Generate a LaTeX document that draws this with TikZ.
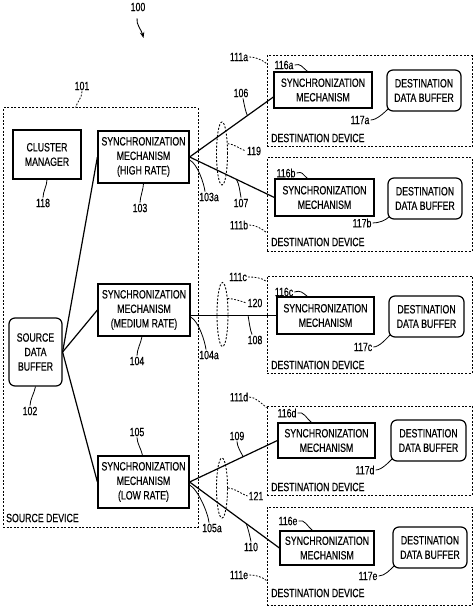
\documentclass[tikz,border=0pt]{standalone}
\usepackage{fontspec}
\setmainfont{Liberation Sans}[FakeStretch=0.73,FakeBold=0.35]
\usetikzlibrary{shapes.geometric,calc,arrows.meta}
\tikzset{
  txt/.style={font=\fontsize{12}{14.5}\selectfont},
  sz/.style 2 args={minimum width=#1, minimum height=#2},
  box/.style={draw, line width=1.2pt, align=center, inner sep=0pt, txt},
  rbox/.style={box, rounded corners=6pt},
  dbox/.style={draw, line width=1pt, dash pattern=on 2pt off 1.6pt, inner sep=0pt},
  ell/.style={ellipse, draw, line width=0.9pt, dash pattern=on 2pt off 1.6pt, inner sep=0pt},
  lbl/.style={txt, inner sep=1pt},
  plain/.style={txt, inner sep=0pt, anchor=west},
  lead/.style={line width=0.8pt},
  dlead/.style={line width=0.8pt, dash pattern=on 1.8pt off 1.5pt},
  link/.style={line width=1.2pt},
}
\begin{document}
\begin{tikzpicture}[x=1pt,y=-1pt]
\fill[white] (0,0) rectangle (474,609);
\useasboundingbox (0,0) rectangle (474,609);

% ---------- source device ----------
\node[dbox, sz={195pt}{419pt}] (src) at (100.5,317.5) {};
\node[plain] (srclbl) at (6,518) {SOURCE DEVICE};
\node[box, sz={68pt}{49pt}] (cm) at (47,154.5) {CLUSTER\\MANAGER};
\node[box, sz={91pt}{52pt}] (sh) at (143.5,157) {SYNCHRONIZATION\\MECHANISM\\(HIGH RATE)};
\node[box, sz={92pt}{52pt}] (sm) at (144,310) {SYNCHRONIZATION\\MECHANISM\\(MEDIUM RATE)};
\node[box, sz={91pt}{52pt}] (sl) at (143.5,482) {SYNCHRONIZATION\\MECHANISM\\(LOW RATE)};
\node[rbox, sz={53pt}{68pt}] (sdb) at (35.5,352) {SOURCE\\DATA\\BUFFER};

% ---------- destination devices ----------
\node[dbox, sz={205pt}{91pt}] (da) at (369.5,101.5) {};
\node[dbox, sz={205pt}{93pt}] (db) at (369.5,204.5) {};
\node[dbox, sz={205pt}{97pt}] (dc) at (369.5,324.5) {};
\node[dbox, sz={205pt}{89pt}] (dd) at (369.5,450.5) {};
\node[dbox, sz={205pt}{98pt}] (de) at (369.5,556) {};

\node[plain] (dla) at (271,138) {DESTINATION DEVICE};
\node[plain] (dlb) at (271,242) {DESTINATION DEVICE};
\node[plain] (dlc) at (271,365) {DESTINATION DEVICE};
\node[plain] (dld) at (271,487) {DESTINATION DEVICE};
\node[plain] (dle) at (271,593) {DESTINATION DEVICE};

\node[box, sz={98pt}{36pt}] (sa) at (323,90) {SYNCHRONIZATION\\MECHANISM};
\node[box, sz={99pt}{37pt}] (sb) at (324.5,197.5) {SYNCHRONIZATION\\MECHANISM};
\node[box, sz={97pt}{37pt}] (sc) at (325.5,315.5) {SYNCHRONIZATION\\MECHANISM};
\node[box, sz={97pt}{35pt}] (sd) at (326.5,440.5) {SYNCHRONIZATION\\MECHANISM};
\node[box, sz={94pt}{34pt}] (se) at (327,548) {SYNCHRONIZATION\\MECHANISM};

\node[rbox, sz={74pt}{41pt}] (ba) at (424,90.5) {DESTINATION\\DATA BUFFER};
\node[rbox, sz={74pt}{41pt}] (bb) at (425,198.5) {DESTINATION\\DATA BUFFER};
\node[rbox, sz={75pt}{41pt}] (bc) at (426.5,316.5) {DESTINATION\\DATA BUFFER};
\node[rbox, sz={75pt}{41pt}] (bd) at (428.5,440.5) {DESTINATION\\DATA BUFFER};
\node[rbox, sz={74pt}{41pt}] (be) at (430,547.5) {DESTINATION\\DATA BUFFER};

% ---------- connectors ----------
\draw[link] (sdb.east) -- (sh.west);
\draw[link] (sdb.east) -- (sm.west);
\draw[link] (sdb.east) -- (sl.west);
\draw[link] (sh.east) -- coordinate[pos=0.69] (m106) ($(sa.west)+(0,7)$);
\draw[link] (sh.east) -- coordinate[pos=0.55] (m107) (sb.west);
\draw[link] (sc.west -| sm.east) -- coordinate[pos=0.67] (m108) (sc.west);
\draw[link] (sl.east) -- coordinate[pos=0.61] (m109) (sd.west);
\draw[link] (sl.east) -- coordinate[pos=0.63] (m110) (se.west);

% ---------- ellipses ----------
\node[ell, sz={11pt}{63pt}] (e119) at (222,153.5) {};
\node[ell, sz={11pt}{64pt}] (e120) at (222.5,314.5) {};
\node[ell, sz={11pt}{60pt}] (e121) at (222,488) {};

% ---------- labels and leaders ----------
\node[lbl] (l100) at (138,7) {100};
\coordinate (a100) at (143.5,38);
\draw[lead, line width=0.9pt, shorten <=6pt, -{Stealth[length=6pt,width=4.5pt]}]
  (l100.south) .. controls +(-2,12) and +(-2,-8) .. (a100);

\node[lbl] (l101) at (82,86) {101};
\draw[dlead] (l101.south) .. controls +(0,6) and +(2,-6) .. ($(src.north west)+(73,0)$);

\node[lbl] (l118) at (43,203) {118};
\draw[lead] (l118.north) .. controls +(0,-6) and +(0,6) .. (cm.south);

\node[lbl] (l103) at (140,208) {103};
\draw[lead] (l103.north) .. controls +(0,-5) and +(0,5) .. (sh.south);

\node[lbl] (l103a) at (209,197) {103a};
\draw[lead] ($(sh.east)+(0,3)$) .. controls +(8,4) and +(-1,-8) .. ($(l103a.north)+(-4,0)$);

\node[lbl] (l104) at (137,361) {104};
\draw[lead] (l104.north) .. controls +(0,-6) and +(-1,6) .. ($(sm.south)+(-2,0)$);

\node[lbl] (l104a) at (209,355) {104a};
\draw[lead] ($(sm.east)+(0,7)$) .. controls +(8,4) and +(-1,-8) .. ($(l104a.north)+(-3,0)$);

\node[lbl] (l105) at (137,432) {105};
\draw[lead] (l105.south) .. controls +(0,6) and +(-1,-6) .. ($(sl.north)+(-1,0)$);

\node[lbl] (l105a) at (212,528) {105a};
\draw[lead] ($(sl.east)+(0,3)$) .. controls +(8,4) and +(-1,-10) .. ($(l105a.north)+(-3,0)$);

\node[lbl] (l102) at (30,411) {102};
\draw[lead] (l102.north) .. controls +(0,-6) and +(-1,6) .. (sdb.south);

\node[lbl] (l106) at (241,93) {106};
\draw[lead] ($(l106.south)+(2,0)$) .. controls +(1,5) and +(-2,-4) .. (m106);

\node[lbl] (l107) at (241,203) {107};
\draw[lead] (m107) .. controls +(3,4) and +(-1,-5) .. (l107.north);

\node[lbl] (l108) at (255,340) {108};
\draw[lead] (m108) .. controls +(1,6) and +(-2,-5) .. ($(l108.north)+(-3,0)$);

\node[lbl] (l109) at (237,436) {109};
\draw[lead] (l109.south) .. controls +(0,5) and +(-2,-4) .. (m109);

\node[lbl] (l110) at (251,547) {110};
\draw[lead] (m110) .. controls +(2,5) and +(-1,-5) .. (l110.north);

\node[lbl] (l119) at (254,151) {119};
\draw[dlead] (e119.60) .. controls +(6,0) and +(-6,-2) .. (l119.west);
\node[lbl] (l120) at (255,303) {120};
\draw[dlead] (e120.72) .. controls +(6,0) and +(-6,-2) .. (l120.west);
\node[lbl] (l121) at (256,496) {121};
\draw[dlead] (e121.east) .. controls +(6,0) and +(-6,-2) .. (l121.west);

\node[lbl] (l111a) at (239,57) {111a};
\draw[dlead] (l111a.east) .. controls +(6,0) and +(-5,-4) .. ($(da.north west)+(0,8)$);
\node[lbl] (l111b) at (239,225) {111b};
\draw[dlead] (l111b.east) .. controls +(6,0) and +(-5,-4) .. ($(db.south west)+(0,-19)$);
\node[lbl] (l111c) at (238,277) {111c};
\draw[dlead] (l111c.east) .. controls +(6,0) and +(-5,-4) .. ($(dc.north west)+(0,6)$);
\node[lbl] (l111d) at (239,397) {111d};
\draw[dlead] (l111d.east) .. controls +(6,0) and +(-5,-4) .. ($(dd.north west)+(0,2)$);
\node[lbl] (l111e) at (239,575) {111e};
\draw[dlead] (l111e.east) .. controls +(6,0) and +(-5,-4) .. ($(de.south west)+(0,-25)$);

\node[lbl] (l116a) at (284,65) {116a};
\draw[lead] (l116a.east) .. controls +(6,-2) and +(-5,-4) .. ($(sa.north west)+(34,0)$);
\node[lbl] (l116b) at (286,173) {116b};
\draw[lead] (l116b.east) .. controls +(6,-2) and +(-5,-4) .. ($(sb.north west)+(33,0)$);
\node[lbl] (l116c) at (284,292) {116c};
\draw[lead] (l116c.east) .. controls +(6,-2) and +(-5,-4) .. ($(sc.north west)+(31,0)$);
\node[lbl] (l116d) at (287,413) {116d};
\draw[lead] (l116d.east) .. controls +(6,-2) and +(-5,-4) .. ($(sd.north west)+(34,0)$);
\node[lbl] (l116e) at (288,521) {116e};
\draw[lead] (l116e.east) .. controls +(6,-2) and +(-5,-4) .. ($(se.north west)+(33,0)$);

\node[lbl] (l117a) at (360,120) {117a};
\draw[lead] (l117a.east) .. controls +(6,0) and +(-4,4) .. ($(ba.south west)+(2,-3)$);
\node[lbl] (l117b) at (362,223) {117b};
\draw[lead] (l117b.east) .. controls +(6,0) and +(-4,4) .. ($(bb.south west)+(2,-3)$);
\node[lbl] (l117c) at (363,347) {117c};
\draw[lead] (l117c.east) .. controls +(6,0) and +(-4,4) .. ($(bc.south west)+(2,-3)$);
\node[lbl] (l117d) at (365,470) {117d};
\draw[lead] (l117d.east) .. controls +(6,0) and +(-4,4) .. ($(bd.south west)+(2,-3)$);
\node[lbl] (l117e) at (368,576) {117e};
\draw[lead] (l117e.east) .. controls +(6,0) and +(-4,4) .. ($(be.south west)+(2,-3)$);
\end{tikzpicture}
\end{document}
